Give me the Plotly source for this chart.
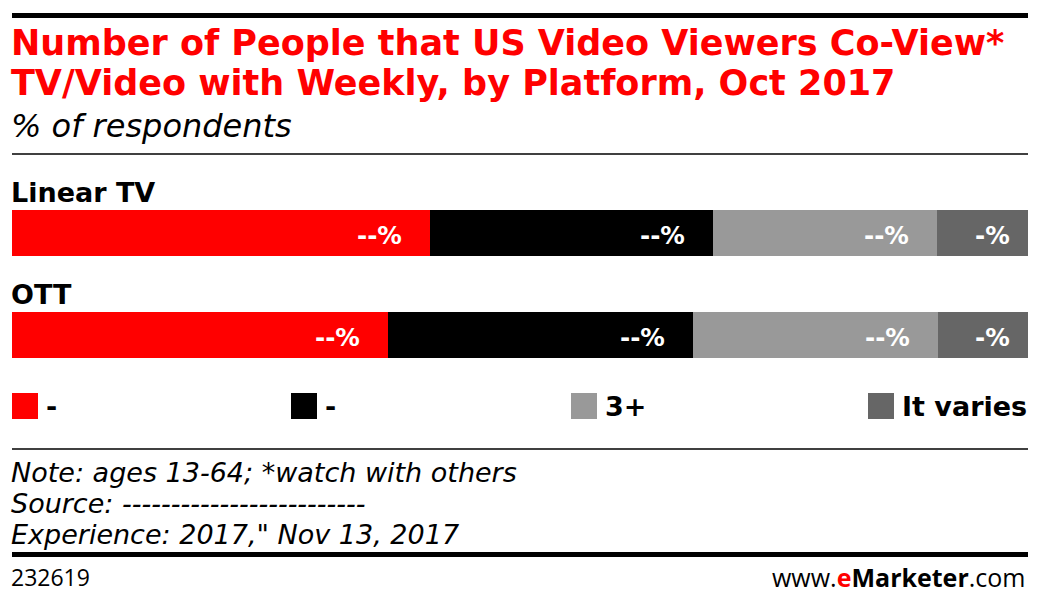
import plotly.graph_objects as go
import numpy as np

platforms = ["Linear TV", "OTT"]
series_names = ["-", "-", "3+", "It varies"]
series_colors = ["#ff0000", "#000000", "#999999", "#666666"]
values = {
    "s1": [41.1, 37.0],
    "s2": [27.9, 30.0],
    "s3": [22.0, 24.1],
    "s4": [9.0, 8.9],
}
bar_labels = [["--%", "--%"], ["--%", "--%"], ["--%", "--%"], ["-%", "-%"]]

title_lines = ["Number of People that US Video Viewers Co-View*",
               "TV/Video with Weekly, by Platform, Oct 2017"]
subtitle_text = "% of respondents"
note_lines = ["Note: ages 13-64; *watch with others",
              "Source: -------------------------",
              "Experience: 2017,\" Nov 13, 2017"]
chart_id = "232619"

W, H = 1041, 604
X0, X1 = 12, 1028


def px_x(p):
    return p / W


def px_y(p):
    return 1 - p / H


BOLD = "DejaVu Sans"
ITAL = "DejaVu Sans"
FOOT = "Open Sans"

fig = go.Figure()
series_keys = ["s1", "s2", "s3", "s4"]
for i, key in enumerate(series_keys):
    fig.add_trace(go.Bar(
        y=platforms, x=values[key], orientation="h",
        name=series_names[i], marker=dict(color=series_colors[i], line=dict(width=0)),
        showlegend=False, hoverinfo="skip",
    ))

annotations = []
shapes = []

# bar value labels
cum = np.zeros(len(platforms))
for i, key in enumerate(series_keys):
    cum = cum + np.array(values[key])
    for j, p in enumerate(platforms):
        annotations.append(dict(
            x=cum[j], y=p, xref="x", yref="y", text=bar_labels[i][j],
            showarrow=False, xanchor="right", yanchor="middle",
            xshift=-26 if i < 3 else -16, yshift=-2,
            font=dict(family=BOLD, size=24.5, color="white", weight="bold"),
        ))

# category labels above bars
for p in platforms:
    annotations.append(dict(
        x=px_x(X0) - 0.003, y=p, xref="paper", yref="y", text=p, showarrow=False,
        xanchor="left", yanchor="middle", yshift=41,
        font=dict(family=BOLD, size=27, color="black", weight="bold"),
    ))

# title
for k, line in enumerate(title_lines):
    annotations.append(dict(
        x=px_x(X0) - 0.003, y=px_y(43 + 40 * k), xref="paper", yref="paper", text=line,
        showarrow=False, xanchor="left", yanchor="middle", align="left",
        font=dict(family=BOLD, size=35, color="#ff0000", weight="bold"),
    ))
annotations.append(dict(
    x=px_x(X0) - 0.003, y=px_y(126), xref="paper", yref="paper", text=subtitle_text,
    showarrow=False, xanchor="left", yanchor="middle", align="left",
    font=dict(family=ITAL, size=32, color="black", style="italic"),
))

# legend
legend_x = [12, 291, 571, 868]
for i, name in enumerate(series_names):
    shapes.append(dict(type="rect", xref="paper", yref="paper",
                       x0=px_x(legend_x[i]), x1=px_x(legend_x[i] + 26),
                       y0=px_y(419), y1=px_y(393),
                       fillcolor=series_colors[i], line=dict(width=0)))
    annotations.append(dict(
        x=px_x(legend_x[i] + 32), y=px_y(406), xref="paper", yref="paper", text=name,
        showarrow=False, xanchor="left", yanchor="middle",
        font=dict(family=BOLD, size=27, color="black", weight="bold"),
    ))

# notes
for k, line in enumerate(note_lines):
    annotations.append(dict(
        x=px_x(X0) - 0.003, y=px_y(472 + 31 * k), xref="paper", yref="paper", text=line,
        showarrow=False, xanchor="left", yanchor="middle", align="left",
        font=dict(family=ITAL, size=27, color="black", style="italic"),
    ))

annotations.append(dict(
    x=px_x(X0) - 0.003, y=px_y(577), xref="paper", yref="paper", text=chart_id,
    showarrow=False, xanchor="left", yanchor="middle",
    font=dict(family=FOOT, size=23, color="black"),
))
annotations.append(dict(
    x=px_x(1027), y=px_y(577), xref="paper", yref="paper",
    text="www.<span style='color:#ff0000'><b>e</b></span><b>Marketer</b>.com",
    showarrow=False, xanchor="right", yanchor="middle",
    font=dict(family=FOOT, size=25, color="black"),
))

# rules
shapes.append(dict(type="rect", xref="paper", yref="paper", x0=px_x(X0), x1=px_x(X1),
                   y0=px_y(18), y1=px_y(13), fillcolor="black", line=dict(width=0)))
shapes.append(dict(type="line", xref="paper", yref="paper", x0=px_x(X0), x1=px_x(X1),
                   y0=px_y(154), y1=px_y(154), line=dict(color="black", width=1.5)))
shapes.append(dict(type="line", xref="paper", yref="paper", x0=px_x(X0), x1=px_x(X1),
                   y0=px_y(449), y1=px_y(449), line=dict(color="black", width=1.5)))
shapes.append(dict(type="rect", xref="paper", yref="paper", x0=px_x(X0), x1=px_x(X1),
                   y0=px_y(557), y1=px_y(552), fillcolor="black", line=dict(width=0)))

fig.update_layout(
    width=W, height=H, margin=dict(l=0, r=0, t=0, b=0),
    paper_bgcolor="white", plot_bgcolor="white",
    barmode="stack", bargap=0.549,
    xaxis=dict(domain=[px_x(X0), px_x(X1)], range=[0, 100], visible=False, fixedrange=True),
    yaxis=dict(domain=[px_y(386), px_y(182)], range=[1.5, -0.5], autorange=False, visible=False,
               categoryorder="array", categoryarray=platforms, fixedrange=True),
    annotations=annotations, shapes=shapes, showlegend=False,
)

fig.write_html("out.html", config={"displayModeBar": False},
               post_script="document.body.style.margin='0';document.body.style.overflow='hidden';")
